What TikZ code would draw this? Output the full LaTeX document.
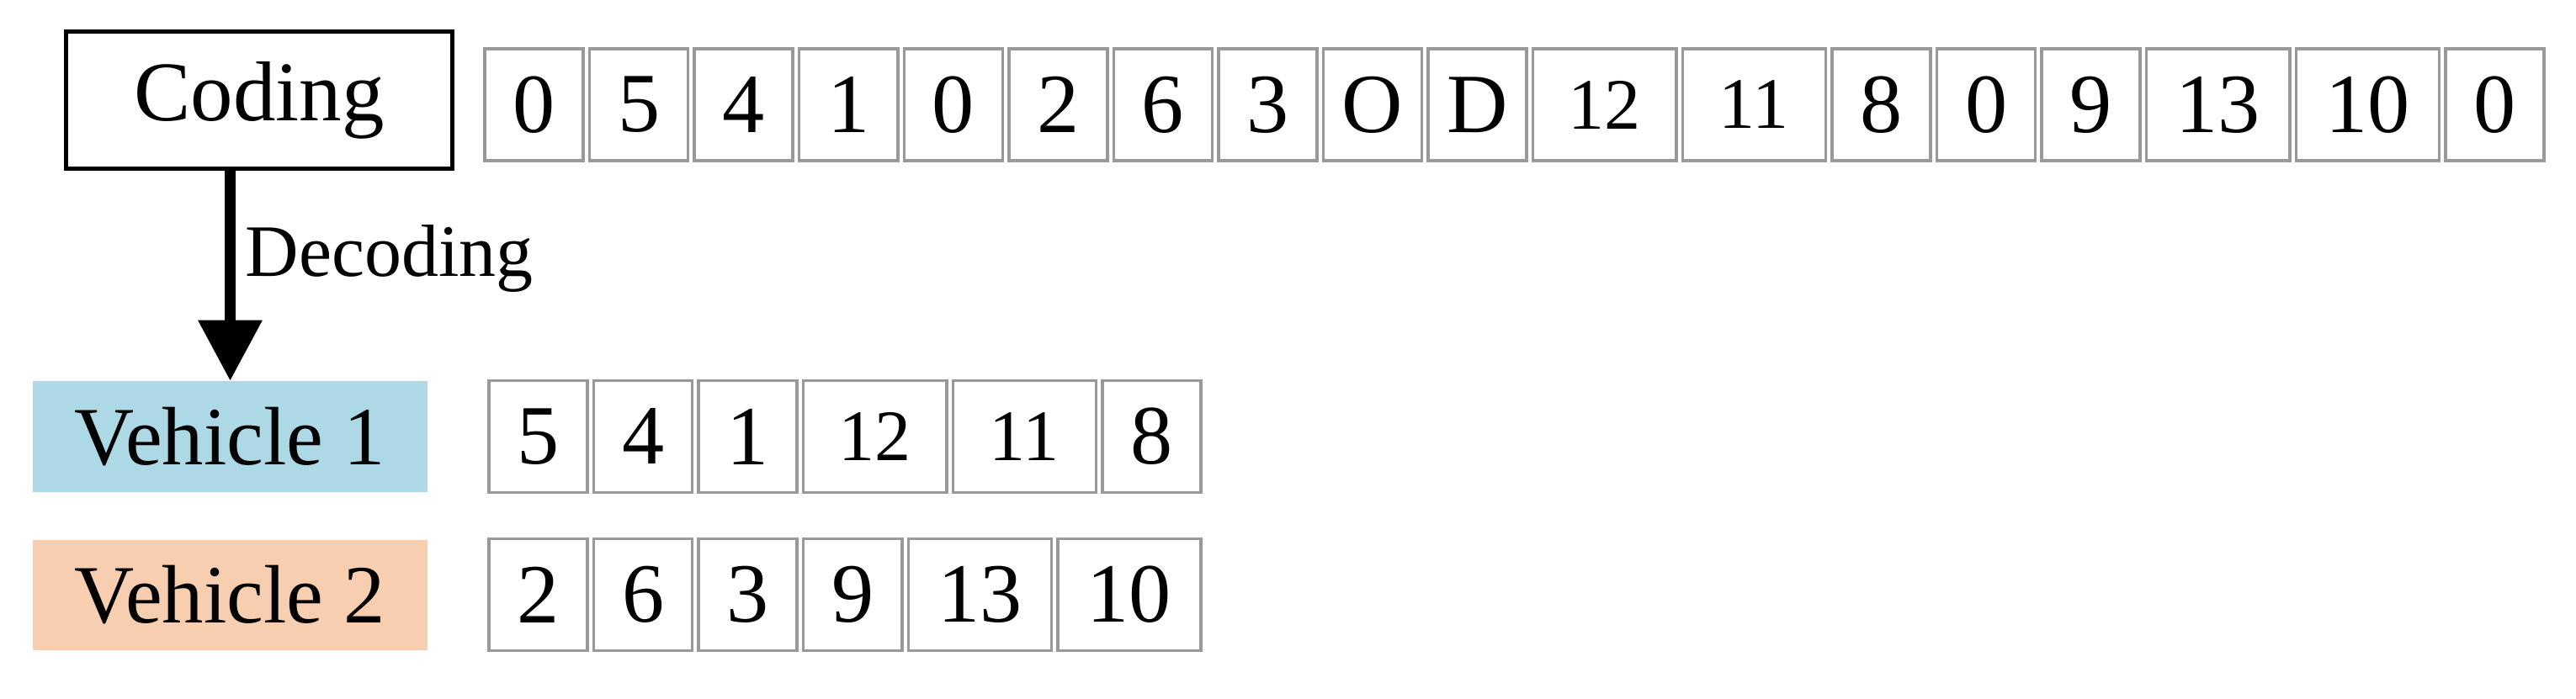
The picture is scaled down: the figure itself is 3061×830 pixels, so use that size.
\documentclass[tikz,border=0pt]{standalone}
\usepackage{fontspec}
\setmainfont{Liberation Serif}
\usetikzlibrary{positioning,arrows.meta}
\definecolor{vblue}{RGB}{173,216,230}
\definecolor{vpeach}{RGB}{248,206,176}
\tikzset{
  cell/.style={draw=gray!80, line width=0.035cm, inner sep=0pt, outer sep=0pt, minimum width=1.17cm, minimum height=1.33cm, font=\fontsize{28.5}{34}\selectfont},
  widecell/.style={cell, minimum width=1.7cm},
  smallcell/.style={widecell, font=\fontsize{24.5}{30}\selectfont},
  vehbox/.style={inner sep=0pt, minimum width=4.69cm, minimum height=1.31cm, font=\fontsize{28}{34}\selectfont}
}
\begin{document}
\begin{tikzpicture}[x=0.01cm,y=0.01cm]
    \useasboundingbox (0,0) rectangle (3061,830);
    \node [draw, line width=0.05cm, inner sep=0pt, minimum width=4.58cm, minimum height=1.62cm, font=\fontsize{28.7}{34}\selectfont] (coding) at (308,711) {Coding};
    % coded string
    \coordinate (top0) at (568.5,705.5);
    \foreach \t/\s [count=\i, remember=\i as \j (initially 0)] in {0/cell,5/cell,4/cell,1/cell,0/cell,2/cell,6/cell,3/cell,O/cell,D/cell,12/smallcell,11/smallcell,8/cell,0/cell,9/cell,13/widecell,10/widecell,0/cell}
      \node [\s, right=0.075cm of top\j] (top\i) {\t};
    % vehicles
    \node [vehbox, fill=vblue] (veh1) at (273.5,311) {Vehicle 1};
    \node [vehbox, fill=vpeach] (veh2) at (273.5,122.5) {Vehicle 2};
    \coordinate (va0) at (573.5,311);
    \foreach \t/\s [count=\i, remember=\i as \j (initially 0)] in {5/cell,4/cell,1/cell,12/smallcell,11/smallcell,8/cell}
      \node [\s, right=0.075cm of va\j] (va\i) {\t};
    \coordinate (vb0) at (573.5,123);
    \foreach \t/\s [count=\i, remember=\i as \j (initially 0)] in {2/cell,6/cell,3/cell,9/cell,13/widecell,10/widecell}
      \node [\s, right=0.075cm of vb\j] (vb\i) {\t};
    \draw [line width=0.13cm, -{Triangle[length=0.72cm,width=0.73cm]}] (coding.south -| veh1.north) -- node [pos=0.42, right, font=\fontsize{25}{30}\selectfont] (declabel) {Decoding} (veh1.north);
  \end{tikzpicture}
\end{document}
